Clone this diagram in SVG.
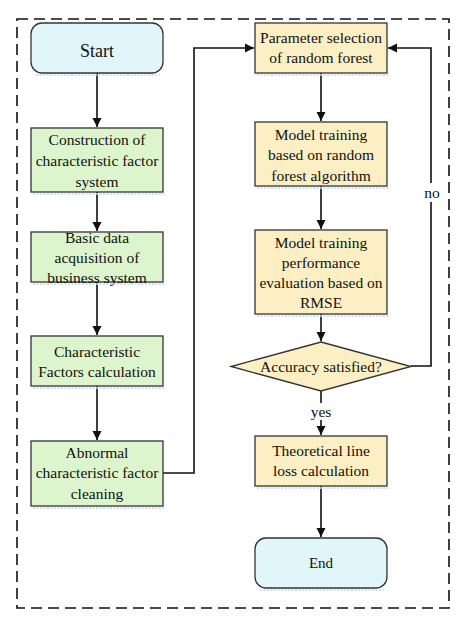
<svg xmlns="http://www.w3.org/2000/svg" width="474" height="635" viewBox="0 0 474 635">
<defs>
<style>
.t{font-family:"Liberation Serif","Times New Roman",serif;font-size:15.5px;fill:#111;text-anchor:middle;}
.g{fill:#dcf5cc;stroke:#333;stroke-width:1.3;}
.y{fill:#fcefc3;stroke:#333;stroke-width:1.3;}
.c{fill:#e0f6fa;stroke:#333;stroke-width:1.3;}
.sh{stroke:#b9d7ec;stroke-width:1.5;stroke-dasharray:2 1.5;fill:none;}
.ln{fill:none;stroke:#111;stroke-width:1.6;}
</style>
<marker id="ah" markerWidth="10" markerHeight="10" refX="9" refY="5" orient="auto" markerUnits="userSpaceOnUse">
<path d="M0,0.5 L9,5 L0,9.5 Z" fill="#111"/>
</marker>
</defs>
<rect width="474" height="635" fill="#fff"/>
<rect x="17" y="19" width="432" height="589" fill="none" stroke="#111" stroke-width="1.6" stroke-dasharray="11 6"/>

<g id="connectors">
<line class="ln" x1="97" y1="73" x2="97" y2="127" marker-end="url(#ah)"/>
<line class="ln" x1="97" y1="192" x2="97" y2="231" marker-end="url(#ah)"/>
<line class="ln" x1="97" y1="282" x2="97" y2="335" marker-end="url(#ah)"/>
<line class="ln" x1="97" y1="386" x2="97" y2="440" marker-end="url(#ah)"/>
<polyline class="ln" points="163,473 194,473 194,48 254,48" marker-end="url(#ah)"/>
<line class="ln" x1="321" y1="73" x2="321" y2="121" marker-end="url(#ah)"/>
<line class="ln" x1="321" y1="186" x2="321" y2="229" marker-end="url(#ah)"/>
<line class="ln" x1="321" y1="314" x2="321" y2="341" marker-end="url(#ah)"/>
<polyline class="ln" points="411,366 431,366 431,48 388,48" marker-end="url(#ah)"/>
<line class="ln" x1="321" y1="391" x2="321" y2="435" marker-end="url(#ah)"/>
<line class="ln" x1="321" y1="486" x2="321" y2="537" marker-end="url(#ah)"/>
<rect x="422" y="183" width="20" height="19" fill="#fff"/>
<text class="t" x="432" y="198">no</text>
<rect x="307" y="403" width="28" height="17" fill="#fff"/>
<text class="t" x="321" y="417">yes</text>
</g>

<g id="start">
<line class="sh" x1="36" y1="75" x2="160" y2="75"/>
<rect class="c" x="31" y="23" width="132" height="50" rx="11"/>
<text class="t" x="97" y="57" style="font-size:18px">Start</text>
</g>
<g id="construction">
<line class="sh" x1="33" y1="194" x2="165" y2="194"/>
<rect class="g" x="31" y="128" width="132" height="64"/>
<text class="t" x="97" y="145">Construction of</text>
<text class="t" x="97" y="166">characteristic factor</text>
<text class="t" x="97" y="187">system</text>
</g>
<g id="basic">
<line class="sh" x1="33" y1="284" x2="165" y2="284"/>
<rect class="g" x="31" y="232" width="132" height="50"/>
<text class="t" x="97" y="243">Basic data</text>
<text class="t" x="97" y="263">acquisition of</text>
<text class="t" x="97" y="283">business system</text>
</g>
<g id="calc">
<line class="sh" x1="33" y1="388" x2="165" y2="388"/>
<rect class="g" x="31" y="336" width="132" height="50"/>
<text class="t" x="97" y="357">Characteristic</text>
<text class="t" x="97" y="377">Factors calculation</text>
</g>
<g id="cleaning">
<line class="sh" x1="33" y1="508" x2="165" y2="508"/>
<rect class="g" x="31" y="441" width="132" height="65"/>
<text class="t" x="97" y="458">Abnormal</text>
<text class="t" x="97" y="478">characteristic factor</text>
<text class="t" x="97" y="499">cleaning</text>
</g>
<g id="param">
<line class="sh" x1="257" y1="75" x2="389" y2="75"/>
<rect class="y" x="255" y="23" width="132" height="50"/>
<text class="t" x="321" y="43">Parameter selection</text>
<text class="t" x="321" y="63">of random forest</text>
</g>
<g id="train">
<line class="sh" x1="257" y1="188" x2="389" y2="188"/>
<rect class="y" x="255" y="122" width="132" height="64"/>
<text class="t" x="321" y="140">Model training</text>
<text class="t" x="321" y="160">based on random</text>
<text class="t" x="321" y="181">forest algorithm</text>
</g>
<g id="eval">
<line class="sh" x1="257" y1="316" x2="389" y2="316"/>
<rect class="y" x="255" y="230" width="132" height="84"/>
<text class="t" x="321" y="248">Model training</text>
<text class="t" x="321" y="268">performance</text>
<text class="t" x="321" y="288">evaluation based on</text>
<text class="t" x="321" y="308">RMSE</text>
</g>
<g id="decision">
<polygon class="y" points="321,342 411,366.5 321,391 231,366.5"/>
<text class="t" x="321" y="372">Accuracy satisfied?</text>
</g>
<g id="lineloss">
<line class="sh" x1="257" y1="488" x2="389" y2="488"/>
<rect class="y" x="255" y="436" width="132" height="50"/>
<text class="t" x="321" y="456">Theoretical line</text>
<text class="t" x="321" y="476">loss calculation</text>
</g>
<g id="end">
<line class="sh" x1="260" y1="590" x2="384" y2="590"/>
<rect class="c" x="255" y="538" width="132" height="50" rx="11"/>
<text class="t" x="321" y="568" style="font-size:15px">End</text>
</g>
</svg>
